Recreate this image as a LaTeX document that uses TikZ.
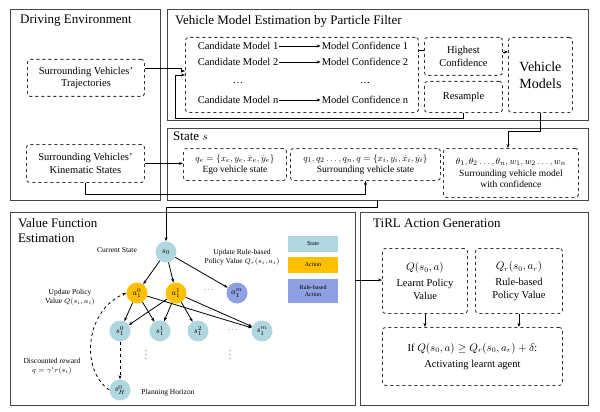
\documentclass[tikz,border=0pt]{standalone}
\usepackage{fontspec}
\setmainfont{Liberation Serif}
\usetikzlibrary{arrows.meta}
\definecolor{stateblue}{RGB}{176,214,224}
\definecolor{actorange}{RGB}{255,192,0}
\definecolor{rulepurple}{RGB}{143,160,226}
\definecolor{framegray}{RGB}{70,70,70}
\tikzset{
  frame/.style={draw=framegray, line width=1pt},
  dbox/.style={draw=black!80, dashed, line width=0.9pt, rounded corners=3pt, anchor=north west, inner sep=1pt, align=center},
  title/.style={anchor=north west, font=\fontsize{13}{15}\selectfont, inner sep=0pt},
  body/.style={font=\fontsize{10.5}{12.5}\selectfont, align=center, inner sep=1pt},
  statetxt/.style={font=\fontsize{9.5}{11.5}\selectfont, align=center, inner sep=1pt},
  small/.style={font=\fontsize{7.5}{9}\selectfont, align=center, inner sep=1pt},
  st/.style={circle, fill=stateblue, minimum size=21pt, inner sep=0pt, font=\fontsize{8}{9}\selectfont},
  act/.style={st, fill=actorange},
  rule/.style={st, fill=rulepurple},
  legend/.style={minimum width=50pt, inner sep=1pt, align=center, font=\fontsize{6}{7}\selectfont},
  link/.style={-{Stealth[length=4pt,width=3pt]}, line width=0.8pt},
}
\begin{document}
\begin{tikzpicture}[x=1pt, y=-1pt]
  \useasboundingbox (0,0) rectangle (600,412);

  % outer frames
  \draw[frame] (10,10) rectangle (160,200);
  \draw[frame] (167,10) rectangle (588,120);
  \draw[frame] (167,128) rectangle (588,200);
  \draw[frame] (10,212) rectangle (355,405);
  \draw[frame] (360,212) rectangle (588,405);
  \node[title] at (20,15) {Driving Environment};
  \node[title] at (175,15) {Vehicle Model Estimation by Particle Filter};
  \node[title] at (173,132) {State $s$};
  \node[title, align=left] at (18,218) {Value Function\\Estimation};
  \node[title] at (373,219) {TiRL Action Generation};

  % driving environment
  \node[dbox, body, minimum width=117pt, minimum height=37pt] (traj) at (27,59) {Surrounding Vehicles'\\Trajectories};
  \node[dbox, body, minimum width=118pt, minimum height=38pt] (kin) at (26,144) {Surrounding Vehicles'\\Kinematic States};

  % particle filter
  \node[dbox, minimum width=233pt, minimum height=75pt] (cand) at (185,37) {};
  \node[body] (c1) at (238,46) {Candidate Model 1};
  \node[body] (c2) at (238,62) {Candidate Model 2};
  \node[body] (cd) at (238,83) {\dots};
  \node[body] (cn) at (238,100) {Candidate Model n};
  \node[body] (m1) at (365,46) {Model Confidence 1};
  \node[body] (m2) at (365,62) {Model Confidence 2};
  \node[body] (md) at (365,83) {\dots};
  \node[body] (mn) at (365,100) {Model Confidence n};
  \foreach \i in {1,2,n} \draw[link] (c\i) -- (m\i);
  \node[dbox, body, minimum width=78pt, minimum height=38pt] (high) at (424,37) {Highest\\Confidence};
  \node[dbox, body, minimum width=78pt, minimum height=31pt] (resamp) at (424,81) {Resample};
  \node[dbox, align=center, font=\fontsize{14}{17}\selectfont, minimum width=64pt, minimum height=75pt] (vmod) at (508,37) {Vehicle\\Models};
  \draw[line width=0.8pt] (cand.east |- 0,50) -- (high.west |- 0,50);
  \draw[link] (high.east |- 0,52) -- (vmod.west |- 0,52);
  \draw[link] (traj.east |- 0,68) -- (181,68) -- (181,71) -- (cand.west |- 0,71);
  \draw[link] (resamp.south) -- ++(0,5) -| (175,75) -- (cand.west |- 0,75);

  % state
  \node[dbox, statetxt, minimum width=103pt, minimum height=32pt] (ego) at (183,148) {$q_e=\{x_e,y_e,\dot x_e,\dot y_e\}$\\Ego vehicle state};
  \node[dbox, statetxt, minimum width=150pt, minimum height=32pt] (surr) at (290,148) {$q_1,q_2\dots,q_n, q=\{x_i,y_i,\dot x_i,\dot y_i\}$\\Surrounding vehicle state};
  \node[dbox, statetxt, minimum width=135pt, minimum height=49pt] (conf) at (443,148) {$\theta_1,\theta_2\dots,\theta_n,w_1,w_2\dots,w_n$\\Surrounding vehicle model\\with confidence};
  \draw[link] (vmod.south) -- ++(0,18) -| (conf.north -| 508,0);
  \draw[link] (kin.east) -- (ego.west |- kin.east);
  \draw[link] (kin.south) -- ++(0,11) -| (surr.south);

  % value function estimation
  \node[st] (s0) at (166,252) {$s_0$};
  \node[small] (cur) at (117,250) {Current State};
  \node[act] (a10) at (137,293) {$a_1^0$};
  \node[act] (a11) at (176,293) {$a_1^1$};
  \node[small] (adots) at (209,290) {$\cdots$};
  \node[rule] (a1m) at (237,293) {$a_1^m$};
  \node[small] (updq) at (70,297) {Update Policy\\Value $Q(s_i,a_i)$};
  \node[small] (updr) at (242,257) {Update Rule-based\\Policy Value $Q_r(s_i,a_i)$};
  \node[st] (s10) at (120,331) {$s_1^0$};
  \node[st] (s11) at (160,331) {$s_1^1$};
  \node[st] (s12) at (198,331) {$s_1^2$};
  \node[small] (sdots) at (233,330) {$\cdots$};
  \node[st] (s1m) at (262,331) {$s_1^m$};
  \node[small] (vd1) at (146,352) {$\vdots$};
  \node[small] (vd2) at (230,352) {$\vdots$};
  \node[st] (sH0) at (120,390) {$s_H^0$};
  \node[small] (plan) at (168,393) {Planning Horizon};
  \node[small] (disc) at (52,366) {Discounted reward\\$q=\gamma^i r(s_i)$};
  \node[legend, fill=stateblue, minimum height=16pt] (lstate) at (313,244) {State};
  \node[legend, fill=actorange, minimum height=16pt] (lact) at (313,265) {Action};
  \node[legend, fill=rulepurple, minimum height=24pt] (lrule) at (313,291) {Rule-based\\Action};
  \draw[link] (s0) -- (a10);
  \draw[link] (s0) -- (a11);
  \draw[link] (s0) -- (a1m);
  \draw[link] (a10) -- (s10);
  \draw[link] (a10) -- (s11);
  \draw[link] (a11) -- (s10);
  \draw[link] (a11) -- (s11);
  \draw[link] (a11) -- (s12);
  \draw[link] (a10) -- (s1m);
  \draw[link] (a11) -- (s1m);
  \draw[link, dashed] (s10) -- (sH0);
  \draw[link, dashed] (sH0.west) .. controls (80,370) and (85,310) .. (a10.west);
  \draw[link] (377,200) -- (377,207) -| (s0.north);

  % TiRL action generation
  \node[dbox, body, minimum width=85pt, minimum height=65pt] (learnt) at (382,248) {$Q(s_0,a)$\\[4pt]Learnt Policy\\Value};
  \node[dbox, body, minimum width=87pt, minimum height=65pt] (rulev) at (475,248) {$Q_r(s_0,a_r)$\\[4pt]Rule-based\\Policy Value};
  \node[dbox, body, minimum width=180pt, minimum height=58pt] (ifbox) at (382,327) {If $Q(s_0,a)\geq Q_r(s_0,a_r)+\delta$:\\[4pt]Activating learnt agent};
  \draw[link] (355,280) -- (learnt.west |- 0,280);
  \draw[link] (learnt.south) -- (ifbox.north -| learnt.south);
  \draw[link] (rulev.south) -- (ifbox.north -| rulev.south);
\end{tikzpicture}
\end{document}
